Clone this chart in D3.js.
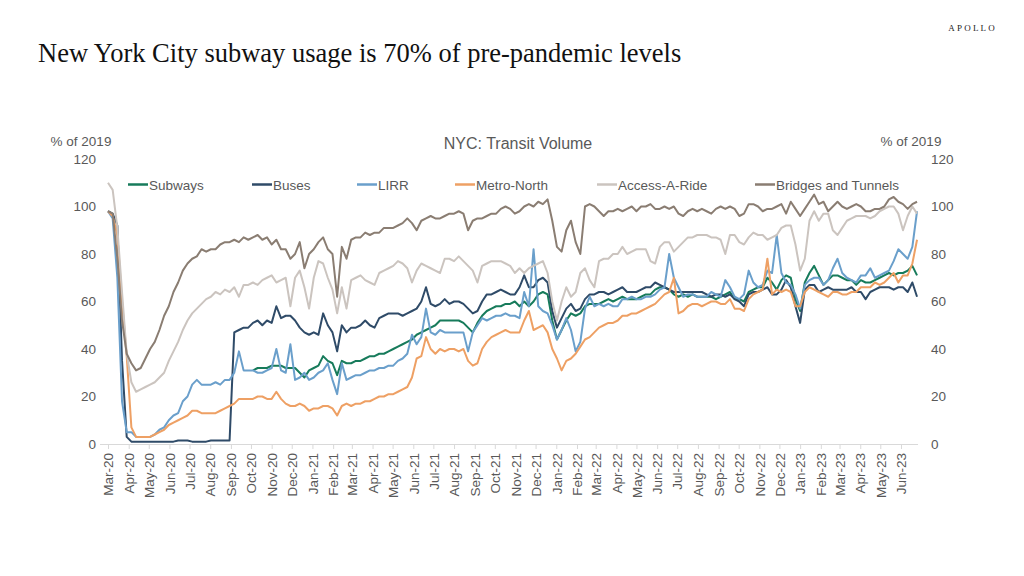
<!DOCTYPE html>
<html><head><meta charset="utf-8">
<script src="https://cdn.jsdelivr.net/npm/d3@7"></script>
<style>body{margin:0;background:#fff;} svg{display:block;}</style>
</head><body>
<svg id="chart" width="1024" height="576"></svg>
<script>
// ---------------- DATA ----------------
const startDate = "2020-03-01";   // first weekly observation
const stepDays = 7;               // weekly observations
const monthTickLabels = ["Mar-20","Apr-20","May-20","Jun-20","Jul-20","Aug-20","Sep-20","Oct-20","Nov-20","Dec-20",
 "Jan-21","Feb-21","Mar-21","Apr-21","May-21","Jun-21","Jul-21","Aug-21","Sep-21","Oct-21","Nov-21","Dec-21",
 "Jan-22","Feb-22","Mar-22","Apr-22","May-22","Jun-22","Jul-22","Aug-22","Sep-22","Oct-22","Nov-22","Dec-22",
 "Jan-23","Feb-23","Mar-23","Apr-23","May-23","Jun-23"];
const yTicks = [0,20,40,60,80,100,120];
const seriesNames = ["Subways","Buses","LIRR","Metro-North","Access-A-Ride","Bridges and Tunnels"];
const seriesColors = ["#177B5B","#2F4B68","#6A9FCB","#EEA064","#CBC4BF","#8A7D72"];

const subways = [null,null,null,null,null,null,null,null,null,null,
 null,null,null,null,null,null,null,null,null,null,
 null,null,null,null,null,null,null,null,null,null,
 null,31,32,32,32,33,33,33,32,32,
 32,30,28,31,32,33,37,35,34,29,
 35,34,34,35,35,36,37,37,38,38,
 39,40,41,42,43,44,46,47,48,49,
 50,52,52,52,52,52,51,49,47,51,
 54,56,57,58,58,59,59,60,58,60,
 58,60,63,64,63,52,44,48,52,55,
 54,55,58,59,59,59,60,61,60,61,
 62,61,61,61,62,63,63,65,66,66,
 65,63,62,63,62,63,62,62,62,62,
 61,62,63,64,61,61,60,64,65,66,
 66,70,68,65,69,71,70,61,56,68,
 72,75,71,67,69,71,71,70,69,69,
 67,69,68,68,69,70,71,72,71,72,
 72,73,75,71];
const buses = [98,97,92,35,3,1,1,1,1,1,
 1,1,1,1,1,1.5,1.5,1.5,1,1,
 1,1,1.5,1.5,1.5,1.5,1.5,47,48,49,
 49,51,52,50,52,51,58,53,54,54,
 52,49,47,46,47,46,55,50,47,39,
 50,47,49,49,50,52,50,49,53,54,
 55,55,55,54,55,56,57,60,66,59,
 58,59,61,59,60,60,59,57,55,56,
 60,63,63,64,65,64,63,63,66,71,
 66,66,69,70,68,56,49,53,57,59,
 56,57,61,63,63,64,64,63,64,65,
 66,64,64,64,65,66,66,68,67,66,
 65,64,64,64,64,64,64,64,63,62,
 63,63,62,63,61,60,58,63,64,64,
 65,66,63,63,65,69,66,58,51,65,
 67,67,64,65,66,65,65,65,65,66,
 64,64,61,64,65,66,66,66,65,66,
 66,64,68,62];
const lirr = [98,95,70,18,5,5,3,3,3,3,
 4,6,7,10,12,13,18,20,25,27,
 25,25,25,26,25,27,27,30,39,31,
 31,31,30,30,31,32,40,31,30,42,
 27,28,30,27,28,30,31,34,27,21,
 34,27,28,29,29,30,31,31,32,32,
 33,33,35,36,38,46,42,45,57,47,
 46,48,47,47,47,47,47,39,47,50,
 53,52,53,54,54,55,54,54,53,64,
 58,82,58,56,55,50,44,48,53,48,
 39,43,57,62,58,59,58,59,58,58,
 61,61,62,61,61,62,62,63,65,66,
 80,70,66,62,63,63,62,62,62,64,
 63,62,69,66,62,61,63,73,68,66,
 67,73,72,88,72,68,67,63,57,67,
 69,70,70,67,69,74,78,72,70,69,
 68,71,71,74,70,71,72,73,77,82,
 80,78,83,98];
const metroNorth = [98,96,88,60,37,7,3,3,3,3,
 4,5,6,8,9,10,11,12,14,14,
 13,13,13,13,14,15,16,17,19,19,
 19,19,20,20,19,19,22,19,17,16,
 16,17,16,14,15,15,16,16,15,12,
 16,17,16,17,17,18,18,19,20,20,
 21,21,22,23,24,28,36,37,45,40,
 38,40,39,40,40,39,40,35,33,34,
 40,43,45,46,47,48,47,47,47,52,
 56,48,49,50,47,40,36,31,35,36,
 38,41,44,45,47,49,50,51,51,52,
 54,54,55,55,56,57,58,59,61,63,
 64,70,55,56,58,59,59,58,59,60,
 60,59,59,61,57,57,56,61,63,64,
 65,78,63,65,64,65,64,58,58,64,
 66,65,64,63,62,64,64,63,63,64,
 64,66,66,66,68,67,68,70,72,68,
 71,71,76,86];
const accessARide = [110,107,91,64,38,26,22,23,24,25,
 26,28,30,35,39,43,48,52,55,57,
 59,61,62,64,63,65,64,66,62,67,
 67,68,67,69,70,71,68,69,70,58,
 70,73,66,57,70,77,76,70,65,55,
 66,57,69,70,71,69,68,67,72,73,
 74,75,77,76,74,68,73,76,75,74,
 73,72,78,78,77,79,77,75,73,68,
 75,76,77,77,77,76,75,72,74,72,
 74,75,76,77,72,60,52,60,66,62,
 64,72,74,69,66,77,78,78,80,80,
 83,80,81,82,82,82,77,76,83,85,
 85,81,83,85,87,87,88,88,88,87,
 87,86,80,88,88,85,84,87,89,88,
 88,86,87,88,91,92,92,84,73,78,
 94,98,94,97,97,90,88,91,94,95,
 96,96,96,95,96,98,99,100,100,97,
 90,96,100,97];
const bridgesTunnels = [98,97,78,52,38,34,31,32,36,40,
 43,48,54,58,64,68,73,76,78,79,
 82,81,82,82,84,85,85,86,85,87,
 86,87,88,86,87,84,86,82,82,78,
 80,85,74,80,82,85,87,82,80,62,
 83,78,86,87,87,89,88,89,89,91,
 91,91,92,93,95,93,90,94,95,96,
 95,95,96,97,97,98,97,90,94,95,
 95,96,97,97,99,100,99,97,98,100,
 101,100,102,101,103,94,83,81,90,94,
 85,80,100,101,100,98,96,98,98,99,
 98,99,100,98,100,100,101,99,99,100,
 99,100,97,96,98,99,98,99,98,97,
 99,100,99,100,99,96,97,101,101,100,
 98,99,99,100,101,97,102,99,96,99,
 102,105,101,102,98,100,102,100,99,100,
 101,100,98,98,99,99,100,103,104,102,
 101,99,101,102];

// ---------------- CHART ----------------
const seriesValues = [subways, buses, lirr, metroNorth, accessARide, bridgesTunnels];
const parseDay = d3.timeParse("%Y-%m-%d");
const parseMonth = d3.timeParse("%b-%y");
const t0 = parseDay(startDate);
const dates = bridgesTunnels.map((_, i) => d3.timeDay.offset(t0, i * stepDays));
const tickDates = monthTickLabels.map(parseMonth);

const svg = d3.select("#chart");
const textColor = "#595959";
const sans = "'Liberation Sans', Arial, sans-serif";

const x = d3.scaleTime()
  .domain([tickDates[0], tickDates[tickDates.length - 1]])
  .range([108, 901]);
const y = d3.scaleLinear().domain([0, 120]).range([444, 159]);

// Titles
svg.append("text").attr("x", 38).attr("y", 62)
  .attr("font-family", "'Liberation Serif', 'Times New Roman', serif")
  .attr("font-size", 26.5).attr("fill", "#111").text("New York City subway usage is 70% of pre-pandemic levels");
svg.append("text").attr("x", 997).attr("y", 31).attr("text-anchor", "end")
  .attr("font-family", "'Liberation Serif', serif").attr("font-size", 9)
  .attr("letter-spacing", 2.2).attr("fill", "#222").text("APOLLO");
svg.append("text").attr("x", 518).attr("y", 149).attr("text-anchor", "middle")
  .attr("font-family", sans).attr("font-size", 16).attr("fill", textColor).text("NYC: Transit Volume");
svg.append("text").attr("x", 81).attr("y", 146).attr("text-anchor", "middle")
  .attr("font-family", sans).attr("font-size", 13.5).attr("fill", textColor).text("% of 2019");
svg.append("text").attr("x", 911).attr("y", 146).attr("text-anchor", "middle")
  .attr("font-family", sans).attr("font-size", 13.5).attr("fill", textColor).text("% of 2019");

// Y axes (labels only)
const yLeft = d3.axisLeft(y).tickValues(yTicks).tickSize(0).tickPadding(0);
const gl = svg.append("g").attr("transform", "translate(96,0)").call(yLeft);
const yRight = d3.axisRight(y).tickValues(yTicks).tickSize(0).tickPadding(0);
const gr = svg.append("g").attr("transform", "translate(931,0)").call(yRight);
[gl, gr].forEach(g => {
  g.select(".domain").remove();
  g.selectAll("text").attr("font-family", sans).attr("font-size", 13.5).attr("fill", textColor);
});

// X axis
const xAxis = d3.axisBottom(x).tickValues(tickDates).tickSize(5).tickFormat((d, i) => monthTickLabels[i]);
const gx = svg.append("g").attr("transform", "translate(0,444)").call(xAxis);
gx.select(".domain").remove();
gx.append("line").attr("x1", x(d3.timeDay.offset(tickDates[0], -12))).attr("x2", x(dates[dates.length - 1]) + 1)
  .attr("y1", 0.5).attr("y2", 0.5).attr("stroke", "#D9D9D9");
gx.selectAll(".tick line").attr("stroke", "#D9D9D9");
gx.selectAll(".tick text")
  .attr("font-family", sans).attr("font-size", 13.5).attr("fill", textColor)
  .attr("text-anchor", "end").attr("transform", "translate(0,9) rotate(-90)")
  .attr("x", 0).attr("y", 0).attr("dy", "0.35em");

// Lines
const line = d3.line()
  .defined(d => d.v != null)
  .x(d => x(d.date)).y(d => y(d.v));
seriesValues.forEach((vals, s) => {
  const pts = vals.map((v, i) => ({date: dates[i], v}));
  svg.append("path").datum(pts)
    .attr("fill", "none").attr("stroke", seriesColors[s])
    .attr("stroke-width", 2).attr("stroke-linejoin", "round")
    .attr("d", line);
});

// Legend
const legendX = [128, 252, 357, 455, 597, 755];
const lg = svg.append("g");
seriesNames.forEach((name, s) => {
  lg.append("line").attr("x1", legendX[s]).attr("x2", legendX[s] + 20)
    .attr("y1", 184.5).attr("y2", 184.5).attr("stroke", seriesColors[s]).attr("stroke-width", 2.5);
  lg.append("text").attr("x", legendX[s] + 21).attr("y", 189.5)
    .attr("font-family", sans).attr("font-size", 13.5).attr("fill", textColor).text(name);
});
</script>
</body></html>
